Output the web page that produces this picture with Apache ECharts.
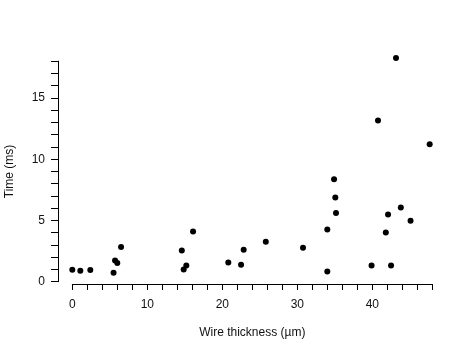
<!DOCTYPE html>
<html>
<head>
<meta charset="utf-8">
<script src="https://cdn.jsdelivr.net/npm/echarts@6/dist/echarts.min.js"></script>
<style>
html,body{margin:0;padding:0;background:#fff;}
#c{width:474px;height:355px;}
</style>
</head>
<body>
<div id="c"></div>
<script>
// Wire thickness (µm)
var thickness = [0, 1.07, 2.4, 5.5, 5.7, 6.0, 6.5, 14.6, 14.85, 15.2, 16.1, 20.8, 22.5, 22.85,
  25.8, 30.76, 34.0, 34.0, 34.9, 35.07, 35.16, 39.9, 40.76, 41.8, 42.1, 42.5, 43.16, 43.8, 45.1, 47.65];
// Time (ms)
var timeMs = [0.98, 0.90, 0.95, 0.73, 1.74, 1.52, 2.83, 2.55, 1.0, 1.33, 4.1, 1.57, 1.39, 2.61,
  3.26, 2.77, 0.84, 4.26, 8.37, 6.87, 5.6, 1.33, 13.15, 4.02, 5.49, 1.33, 18.26, 6.06, 4.97, 11.22];

// tick settings
var xMin = 0, xMax = 48, xStep = 2;
var yMin = 0, yMax = 18, yStep = 1;
var xTickLabels = [0, 10, 20, 30, 40];
var yTickLabels = [0, 5, 10, 15];

var points = thickness.map(function (x, i) { return [x, timeMs[i]]; });

var chart = echarts.init(document.getElementById('c'), null, {renderer: 'canvas'});
var font = 'Liberation Sans, Arial, sans-serif';
var txt = '#111';
function labelFmt(list) {
  return function (v) {
    for (var i = 0; i < list.length; i++) { if (Math.abs(list[i] - v) < 1e-6) return String(list[i]); }
    return '';
  };
}
chart.setOption({
  animation: false,
  backgroundColor: '#fff',
  grid: [
    {left: 72.3, right: 41.7, top: 61.2, bottom: 73.3},
    {left: 72.3, right: 41.7, bottom: 71, height: 1},
    {left: 58, width: 1, top: 61.2, bottom: 73.3}
  ],
  xAxis: [
    {gridIndex: 0, type: 'value', min: xMin, max: xMax, show: false},
    {gridIndex: 1, type: 'value', min: xMin, max: xMax, interval: xStep, position: 'bottom',
      axisLine: {show: true, lineStyle: {color: '#000', width: 1}},
      axisTick: {show: true, length: 6, lineStyle: {color: '#000', width: 1}},
      axisLabel: {show: true, formatter: labelFmt(xTickLabels), margin: 15, fontSize: 12, fontFamily: font, color: txt, hideOverlap: false},
      splitLine: {show: false},
      name: 'Wire thickness (\u00b5m)', nameLocation: 'middle', nameGap: 43,
      nameTextStyle: {fontSize: 12, fontFamily: font, color: txt}},
    {gridIndex: 2, type: 'value', min: 0, max: 1, show: false}
  ],
  yAxis: [
    {gridIndex: 0, type: 'value', min: yMin, max: yMax, show: false},
    {gridIndex: 1, type: 'value', min: 0, max: 1, show: false},
    {gridIndex: 2, type: 'value', min: yMin, max: yMax, interval: yStep, position: 'left',
      axisLine: {show: true, lineStyle: {color: '#000', width: 1}},
      axisTick: {show: true, length: 7, lineStyle: {color: '#000', width: 1}},
      axisLabel: {show: true, formatter: labelFmt(yTickLabels), margin: 13, fontSize: 12, fontFamily: font, color: txt, hideOverlap: false},
      splitLine: {show: false},
      name: 'Time (ms)', nameLocation: 'middle', nameGap: 42,
      nameTextStyle: {fontSize: 12, fontFamily: font, color: txt}}
  ],
  series: [{
    type: 'scatter',
    xAxisIndex: 0, yAxisIndex: 0,
    clip: false,
    symbol: 'circle',
    symbolSize: 6,
    itemStyle: {color: '#000', opacity: 1},
    data: points
  }]
});
</script>
</body>
</html>
